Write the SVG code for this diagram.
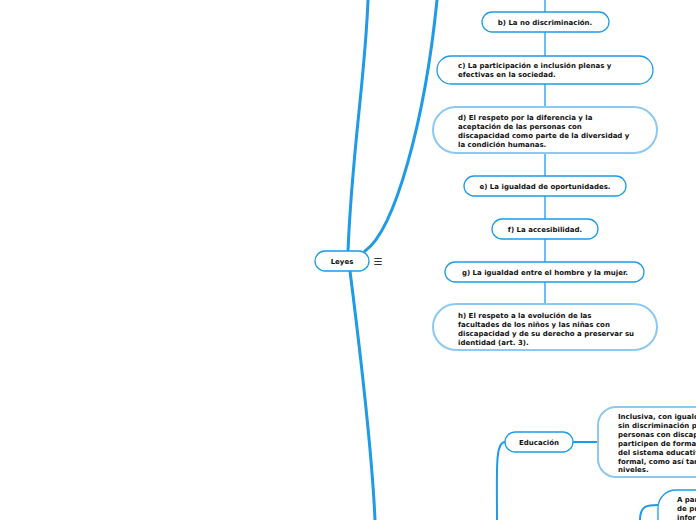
<svg xmlns="http://www.w3.org/2000/svg" width="696" height="520" viewBox="0 0 696 520">
<style>
.n{fill:#fff;stroke:#1e9be6;stroke-width:1.3}
.l{fill:#fff;stroke:#8cc8f0;stroke-width:2}
.t{font-family:"DejaVu Sans",sans-serif;font-weight:bold;font-size:7px;fill:#111}
.c{fill:none;stroke:#1e9be6;stroke-width:3;stroke-linecap:round}
.s{fill:none;stroke:#1e9be6;stroke-width:1.3}
</style>
<g id="connectors">
<path class="c" d="M348,251 C352,150 365,80 368,0"/>
<path class="c" d="M365,251 C395,230 425,120 437,0"/>
<path class="c" d="M350,271 C360,350 372,450 375,520"/>
<path class="s" d="M545,0 V304"/>
<path class="c" style="stroke-width:2" d="M497,520 C497,470 495,442 505,442"/>
<path class="c" style="stroke-width:2" d="M573,442 H598"/>
<path class="c" style="stroke-width:2" d="M640,520 C640,505 648,505 658,505"/>
</g>
<g id="leyes"><rect class="n" x="315" y="251" width="54" height="20" rx="10"/><text class="t" x="342" y="264" text-anchor="middle">Leyes</text><text x="378" y="265" font-family="DejaVu Sans,sans-serif" font-size="10" fill="#333" text-anchor="middle">☰</text></g>
<g id="b"><rect class="n" x="482" y="12" width="127" height="20" rx="10"/><text class="t" x="545" y="25" text-anchor="middle">b) La no discriminación.</text></g>
<g id="c"><rect class="n" x="437" y="56" width="216" height="28" rx="14"/><text class="t" x="458" y="68">c) La participación e inclusión plenas y</text><text class="t" x="458" y="77">efectivas en la sociedad.</text></g>
<g id="d"><rect class="l" x="433" y="107" width="224" height="46" rx="23"/><text class="t" x="458" y="120">d) El respeto por la diferencia y la</text><text class="t" x="458" y="129">aceptación de las personas con</text><text class="t" x="458" y="138">discapacidad como parte de la diversidad y</text><text class="t" x="458" y="147">la condición humanas.</text></g>
<g id="e"><rect class="n" x="464" y="176" width="162" height="20" rx="10"/><text class="t" x="545" y="189" text-anchor="middle">e) La igualdad de oportunidades.</text></g>
<g id="f"><rect class="n" x="492" y="219" width="106" height="20" rx="10"/><text class="t" x="545" y="232" text-anchor="middle">f) La accesibilidad.</text></g>
<g id="g"><rect class="n" x="445" y="262" width="199" height="20" rx="10"/><text class="t" x="545" y="275" text-anchor="middle">g) La igualdad entre el hombre y la mujer.</text></g>
<g id="h"><rect class="l" x="433" y="304" width="224" height="46" rx="23"/><text class="t" x="458" y="318">h) El respeto a la evolución de las</text><text class="t" x="458" y="327">facultades de los niños y las niñas con</text><text class="t" x="458" y="336">discapacidad y de su derecho a preservar su</text><text class="t" x="458" y="345">identidad (art. 3).</text></g>
<g id="educacion"><rect class="n" x="505" y="432" width="68" height="20" rx="10"/><text class="t" x="539" y="445" text-anchor="middle">Educación</text></g>
<g id="inclusiva"><rect class="l" x="598" y="407" width="130" height="70" rx="18"/><text class="t" x="618" y="419">Inclusiva, con igualdad</text><text class="t" x="618" y="428">sin discriminación para</text><text class="t" x="618" y="437">personas con discapacidad</text><text class="t" x="618" y="446"> participen de forma</text><text class="t" x="618" y="455">del sistema educativo</text><text class="t" x="618" y="464">formal, como así también</text><text class="t" x="618" y="472">niveles.</text></g>
<g id="apartir"><rect class="n" x="658" y="490" width="70" height="50" rx="18"/><text class="t" x="677" y="502">A partir</text><text class="t" x="677" y="511">de pu</text><text class="t" x="677" y="520">infor</text></g>
</svg>
